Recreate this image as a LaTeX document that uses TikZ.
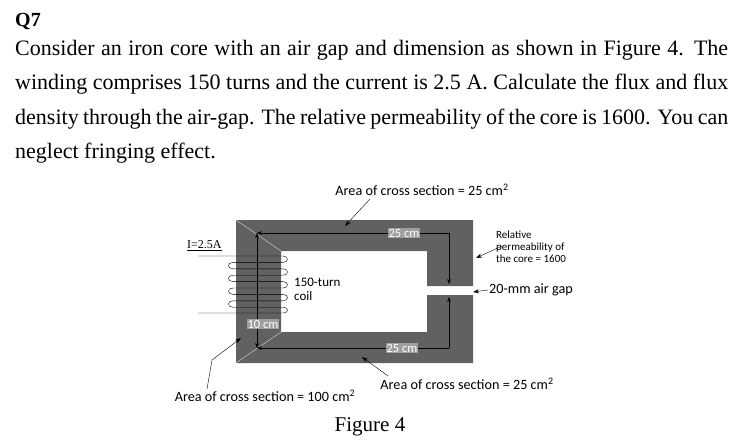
\documentclass[tikz,border=0pt]{standalone}
\usepackage{fontspec}
\setmainfont{Liberation Serif}
\newfontfamily\serifx{Liberation Serif}
\newfontfamily\lab{Carlito}
\usetikzlibrary{arrows.meta}
\begin{document}
\begin{tikzpicture}[x=1pt,y=-1pt,
  lbl/.style={font=\lab\fontsize{14.2}{15}\selectfont,inner sep=1pt},
  dim/.style={font=\lab\fontsize{12.5}{13}\selectfont,text=white,fill=gray!75,inner sep=0.5pt},
  ptr/.style={-{Stealth[length=6pt,width=4pt]},thin},
  mp/.style={thin,black},
  coilw/.style={thin,black}]
\useasboundingbox (0,0) rectangle (735,442);
\node[anchor=base west,font=\serifx\bfseries\fontsize{20}{22}\selectfont,inner sep=0] (q) at (15,26) {Q7};
\node[anchor=north west,text width=713pt,align=justify,inner sep=0,font=\serifx\fontsize{22}{34.5}\selectfont] (para) at (15,40)
{Consider an iron core with an air gap and dimension as shown in Figure 4. The\linebreak winding comprises 150 turns and the current is 2.5 A. Calculate the flux and flux\linebreak density through the air-gap. The relative permeability of the core is 1600. You can\linebreak neglect fringing effect.};
% core
\fill[black!62] (236,220)--(473,220)--(473,286)--(427,286)--(427,251)--(281,251)--(281,332)--(427,332)--(427,295)--(473,295)--(473,363)--(236,363)--cycle;
\draw[gray!30,thin] (236,220)--(281,251) (236,363)--(281,332);
% mean path
\coordinate (tl) at (257,233); \coordinate (bl) at (257,348);
\coordinate (tr) at (449,233); \coordinate (br) at (449,348);
\coordinate (gt) at (449,284); \coordinate (gb) at (449,297);
\draw[mp,-{Stealth[length=5pt]}] (tr)--(tl);
\draw[mp,-{Stealth[length=5pt]}] (tr)--(gt);
\draw[mp,-{Stealth[length=5pt]}] (br)--(bl);
\draw[mp,-{Stealth[length=5pt]}] (br)--(gb);
\draw[mp,{Stealth[length=5pt]}-{Stealth[length=5pt]}] (tl)--(bl);
\node[dim] (d1) at (404,233) {25 cm};
\node[dim] (d2) at (402,348) {25 cm};
\node[dim] (d3) at (263,324) {10 cm};
% coil
\coordinate (lead1) at (198,256); \coordinate (lead2) at (198,313);
\draw[coilw] (lead1)--(283,256) .. controls (289,256) and (289,262.4) .. (283,262.4)
  -- (233,262.4) .. controls (227,262.4) and (227,268.8) .. (233,268.8)
  -- (283,268.8) .. controls (289,268.8) and (289,275.2) .. (283,275.2)
  -- (233,275.2) .. controls (227,275.2) and (227,281.6) .. (233,281.6)
  -- (283,281.6) .. controls (289,281.6) and (289,288) .. (283,288)
  -- (233,288) .. controls (227,288) and (227,294.4) .. (233,294.4)
  -- (283,294.4) .. controls (289,294.4) and (289,300.8) .. (283,300.8)
  -- (233,300.8) .. controls (227,300.8) and (227,307.2) .. (233,307.2)
  -- (283,307.2) .. controls (289,307.2) and (289,313) .. (283,313) -- (lead2);
\node[anchor=base west,font=\serifx\fontsize{12}{13}\selectfont,inner sep=0] (cur) at (187,248) {I=2.5A};
\draw[thin] (187,250)--(222,250);
\node[lbl,anchor=west,align=left,font=\lab\fontsize{13}{14}\selectfont] (coil) at (293,289) {150-turn\\coil};
% annotations
\node[lbl] (a1) at (422,190) {Area of cross section = 25 cm\textsuperscript{2}};
\coordinate (a1t) at (345,226);
\draw[ptr] (370,199)--(a1t);
\node[lbl,align=left,anchor=west,font=\lab\fontsize{11}{12}\selectfont] (rel) at (495,247) {Relative\\permeability of\\the core = 1600};
\coordinate (relt) at (476,258);
\draw[ptr] (502,246)--(relt);
\node[lbl,anchor=west] (gap) at (488,290) {20-mm air gap};
\coordinate (gapt) at (473,292);
\draw[ptr] (gap.west)--(gapt);
\node[lbl] (a2) at (467,384) {Area of cross section = 25 cm\textsuperscript{2}};
\coordinate (a2t) at (362,357);
\draw[ptr] (388,376)--(a2t);
\node[lbl] (a3) at (265,396) {Area of cross section = 100 cm\textsuperscript{2}};
\coordinate (a3t) at (241,338);
\draw[ptr] (207,389)--(212,360)--(a3t);
\node[font=\serifx\fontsize{21}{22}\selectfont,inner sep=0] (fig) at (370,427) {Figure 4};
\end{tikzpicture}
\end{document}
